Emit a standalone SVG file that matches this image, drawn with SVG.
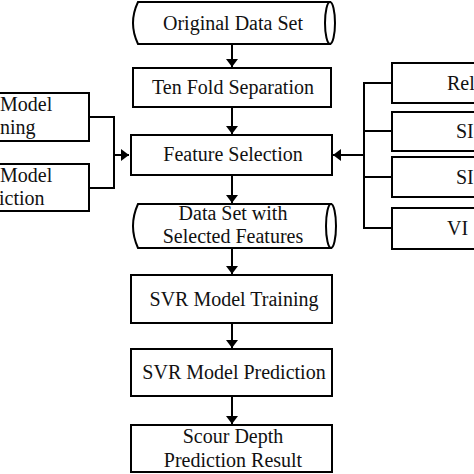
<svg xmlns="http://www.w3.org/2000/svg" width="474" height="474" viewBox="0 0 474 474">
<defs>
<style>
.b{fill:#fff;stroke:#000;stroke-width:2}
.c{fill:none;stroke:#000;stroke-width:2}
.t{font-family:"Liberation Serif","Times New Roman",serif;font-size:20px;fill:#111;text-anchor:middle}
.l{font-family:"Liberation Serif","Times New Roman",serif;font-size:20px;fill:#111}
</style>
<marker id="ah" viewBox="0 0 8 12" refX="8" refY="6" markerWidth="4" markerHeight="6" orient="auto" markerUnits="strokeWidth">
<path d="M0,0 L8,6 L0,12 z" fill="#000"/>
</marker>
</defs>
<rect width="474" height="474" fill="#fff"/>
<g id="connectors">
<line class="c" x1="232" y1="45" x2="232" y2="67" marker-end="url(#ah)"/>
<line class="c" x1="232" y1="107" x2="232" y2="134" marker-end="url(#ah)"/>
<line class="c" x1="232" y1="175" x2="232" y2="203" marker-end="url(#ah)"/>
<line class="c" x1="232" y1="249" x2="232" y2="274" marker-end="url(#ah)"/>
<line class="c" x1="232" y1="323" x2="232" y2="348" marker-end="url(#ah)"/>
<line class="c" x1="232" y1="396" x2="232" y2="424" marker-end="url(#ah)"/>
<polyline class="c" points="89,117 114,117 114,188 89,188"/>
<line class="c" x1="114" y1="155" x2="129" y2="155" marker-end="url(#ah)"/>
<polyline class="c" points="392,83 364,83 364,228 392,228"/>
<line class="c" x1="364" y1="131" x2="392" y2="131"/>
<line class="c" x1="364" y1="177" x2="392" y2="177"/>
<line class="c" x1="364" y1="155" x2="333" y2="155" marker-end="url(#ah)"/>
</g>
<g id="original">
<path class="b" d="M138,2 L330,2 L330,44 L138,44 Q128,23 138,2 z"/>
<ellipse class="b" cx="330" cy="23" rx="5" ry="21"/>
<text class="t" x="233" y="30">Original Data Set</text>
</g>
<g id="tenfold">
<rect class="b" x="133" y="68" width="198" height="39"/>
<text class="t" x="233" y="94">Ten Fold Separation</text>
</g>
<g id="feature">
<rect class="b" x="131" y="135" width="201" height="40"/>
<text class="t" x="233" y="161">Feature Selection</text>
</g>
<g id="dataset">
<path class="b" d="M138,204 L331,204 L331,248 L138,248 Q128,226 138,204 z"/>
<ellipse class="b" cx="331" cy="226" rx="5" ry="22"/>
<text class="t" x="233" y="220">Data Set with</text>
<text class="t" x="233" y="243">Selected Features</text>
</g>
<g id="training">
<rect class="b" x="131" y="275" width="201" height="48"/>
<text class="t" x="234" y="306">SVR Model Training</text>
</g>
<g id="prediction">
<rect class="b" x="131" y="349" width="201" height="47"/>
<text class="t" x="234" y="379">SVR Model Prediction</text>
</g>
<g id="result">
<rect class="b" x="131" y="425" width="201" height="47"/>
<text class="t" x="233" y="443">Scour Depth</text>
<text class="t" x="233" y="467">Prediction Result</text>
</g>
<g id="left1">
<rect class="b" x="-100" y="93" width="189" height="48"/>
<text class="l" x="0" y="111">Model</text>
<text class="l" x="0" y="134">ning</text>
</g>
<g id="left2">
<rect class="b" x="-100" y="164" width="189" height="47"/>
<text class="l" x="0" y="182">Model</text>
<text class="l" x="-1" y="205">iction</text>
</g>
<g id="right1">
<rect class="b" x="392" y="63" width="200" height="40"/>
<text class="l" x="447" y="90">Rel</text>
</g>
<g id="right2">
<rect class="b" x="392" y="112" width="200" height="39"/>
<text class="l" x="456" y="138">SI</text>
</g>
<g id="right3">
<rect class="b" x="392" y="157" width="200" height="40"/>
<text class="l" x="456" y="184">SI</text>
</g>
<g id="right4">
<rect class="b" x="392" y="208" width="200" height="41"/>
<text class="l" x="447" y="235">VI</text>
</g>
</svg>
